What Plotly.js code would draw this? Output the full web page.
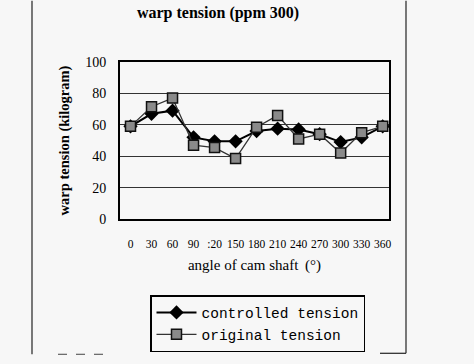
<!DOCTYPE html>
<html><head><meta charset="utf-8">
<script src="https://cdn.plot.ly/plotly-3.0.1.min.js"></script>
<style>html,body{margin:0;padding:0;background:#f7f7f7}</style>
</head><body>
<div id="chart" style="width:474px;height:364px"></div>
<script>
const angles = ["0","30","60","90","120","150","180","210","240","270","300","330","360"];
const tickLabels = ["0","30","60","90",":20","150","180","210","240","270","300","330","360"];
const controlled = [59, 67, 69, 52, 49.5, 49.5, 56, 57.5, 57, 54, 49, 52, 59];
const original = [59, 71.5, 77, 47, 45.5, 38.5, 58.5, 66, 51, 54, 42, 55, 59];
const yTicks = [0, 20, 40, 60, 80, 100];

const serif = "Liberation Serif, Times New Roman, serif";
const W = 474, H = 364, L = 120, R = 389, T = 62, B = 221;
const px = x => (x - L) / (R - L);
const py = y => (B - y) / (B - T);

const traces = [
  {x: angles, y: controlled, name: "controlled tension", type: "scatter", mode: "lines+markers",
   line: {color: "#000", width: 2}, marker: {symbol: "diamond", size: 11, color: "#000"}},
  {x: angles, y: original, name: "original tension", type: "scatter", mode: "lines+markers",
   line: {color: "#333", width: 1.3}, marker: {symbol: "square", size: 10, color: "#8a8a8a", line: {color: "#111", width: 1.5}}}
];

const layout = {
  width: W, height: H,
  margin: {l: L, r: W - R, t: T, b: H - B},
  paper_bgcolor: "#f7f7f7", plot_bgcolor: "#f7f7f7",
  font: {family: serif, color: "#000"},
  title: {text: "<b>warp tension (ppm 300)</b>", font: {family: serif, size: 16, color: "#000"},
          x: 0.46, xref: "container", xanchor: "center", y: 0.965, yref: "container", yanchor: "middle"},
  xaxis: {type: "category", range: [-0.5, 12.3], tickvals: angles, ticktext: tickLabels,
          showgrid: false, showline: true, mirror: true, linecolor: "#000", linewidth: 2,
          ticks: "", ticklabelstandoff: 13, tickfont: {family: serif, size: 11.5},
          title: {text: "angle of cam shaft\u2009 (°)", font: {family: serif, size: 15}, standoff: 11},
          zeroline: false, fixedrange: true},
  yaxis: {range: [0, 100], tickvals: yTicks, showgrid: true, gridcolor: "#333", gridwidth: 1.2,
          showline: true, mirror: true, linecolor: "#000", linewidth: 2, zeroline: false,
          ticks: "", ticklabelstandoff: 9, tickfont: {family: serif, size: 14},
          title: {text: "<b>warp tension (kilogram)</b>", font: {family: serif, size: 14.5}, standoff: 12}},
  legend: {x: px(150), y: py(298), xanchor: "left", yanchor: "top", orientation: "v",
           bgcolor: "#f7f7f7", bordercolor: "#000", borderwidth: 1.5,
           font: {family: "Liberation Mono, Courier New, monospace", size: 14.5, color: "#000"},
           tracegroupgap: 2, itemwidth: 40},
  shapes: [
    {type: "line", xref: "paper", yref: "paper", x0: px(32), x1: px(32), y0: py(0), y1: py(358), line: {color: "#222", width: 1.2}},
    {type: "line", xref: "paper", yref: "paper", x0: px(406), x1: px(406), y0: py(0), y1: py(357), line: {color: "#222", width: 1.2}},
    {type: "line", xref: "paper", yref: "paper", x0: px(58), x1: px(110), y0: py(358), y1: py(358), line: {color: "#444", width: 1, dash: "dash"}},
    {type: "line", xref: "paper", yref: "paper", x0: px(380), x1: px(406), y0: py(357), y1: py(357), line: {color: "#222", width: 1.2}}
  ],
  showlegend: true
};
Plotly.newPlot("chart", traces, layout, {displayModeBar: false, staticPlot: true});
</script>
</body></html>
